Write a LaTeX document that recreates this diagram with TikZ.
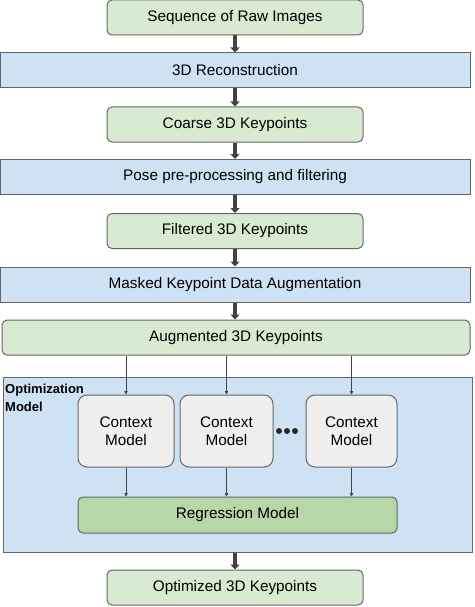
\documentclass[tikz,border=0pt]{standalone}
\usepackage{fontspec}
\setmainfont{Liberation Sans}
\usetikzlibrary{arrows.meta}
\definecolor{boxgreen}{HTML}{D9EAD3}
\definecolor{bandblue}{HTML}{CFE2F3}
\definecolor{ctxgray}{HTML}{EFEFEF}
\definecolor{reggreen}{HTML}{B6D7A8}
\definecolor{bordergray}{HTML}{666666}
\definecolor{arrowgray}{HTML}{434343}
\tikzset{
  keybox/.style={draw=bordergray, fill=boxgreen, rounded corners=5pt, line width=1pt,
    minimum width=256pt, minimum height=35pt, inner sep=0pt, font=\fontsize{15.3}{18}\selectfont},
  band/.style={draw=bordergray, fill=bandblue, line width=1pt,
    minimum width=470pt, minimum height=35pt, inner sep=0pt, font=\fontsize{15.3}{18}\selectfont},
  ctxbox/.style={draw=bordergray, fill=ctxgray, rounded corners=9pt, line width=1pt,
    minimum height=72pt, inner sep=0pt, align=center, font=\fontsize{15.3}{18.5}\selectfont},
  optbox/.style={draw=bordergray, fill=bandblue, line width=1pt, inner sep=0pt},
  regbox/.style={draw=bordergray, fill=reggreen, rounded corners=5pt, line width=1pt,
    minimum width=319pt, minimum height=36pt, inner sep=0pt, font=\fontsize{15.3}{18}\selectfont},
  bigarrow/.style={draw=arrowgray, line width=4pt, -{Triangle[width=9pt,length=5pt]}},
  thinarrow/.style={draw=arrowgray, line width=0.8pt, -{Triangle[width=3.5pt,length=3.5pt]}},
  dotmark/.style={circle, fill=black!85, inner sep=0pt, minimum size=6pt},
}
\begin{document}
\begin{tikzpicture}[x=1pt,y=-1pt]
\useasboundingbox (0,0) rectangle (474,607);
% main column
\node[keybox] (raw) at (235,17.5) {Sequence of Raw Images};
\node[band] (recon) at (235,70.5) {3D Reconstruction};
\node[keybox] (coarse) at (235,124.5) {Coarse 3D Keypoints};
\node[band] (pose) at (235,177) {Pose pre-processing and filtering};
\node[keybox] (filt) at (235,231) {Filtered 3D Keypoints};
\node[band] (mask) at (235,284.5) {Masked Keypoint Data Augmentation};
\node[keybox, minimum width=468pt] (aug) at (236,337.5) {Augmented 3D Keypoints};
% optimization model
\node[optbox, minimum width=469pt, minimum height=175pt] (opt) at (237.5,464.5) {};
\node[anchor=north west, align=left, inner sep=0pt, font=\bfseries\fontsize{13}{18}\selectfont] (optlabel) at (5,384) {Optimization\\Model};
\node[ctxbox, minimum width=96pt] (ctx1) at (126,431) {Context\\Model};
\node[ctxbox, minimum width=93pt] (ctx2) at (226.5,431) {Context\\Model};
\node[ctxbox, minimum width=91pt] (ctx3) at (351.5,431) {Context\\Model};
\node[dotmark] (d1) at (279,431) {};
\node[dotmark] (d2) at (287,431) {};
\node[dotmark] (d3) at (295,431) {};
\node[regbox] (reg) at (237.5,515) {Regression Model};
\node[keybox] (final) at (235,587.5) {Optimized 3D Keypoints};
% thick arrows
\draw[bigarrow] (raw.south) -- (recon.north);
\draw[bigarrow] (recon.south) -- (coarse.north);
\draw[bigarrow] (coarse.south) -- (pose.north);
\draw[bigarrow] (pose.south) -- (filt.north);
\draw[bigarrow] (filt.south) -- (mask.north);
\draw[bigarrow] (mask.south) -- (mask.south |- aug.north);
\draw[bigarrow] (final.north |- opt.south) -- (final.north);
% thin arrows
\draw[thinarrow] (ctx1.north |- aug.south) -- (ctx1.north);
\draw[thinarrow] (ctx2.north |- aug.south) -- (ctx2.north);
\draw[thinarrow] (ctx3.north |- aug.south) -- (ctx3.north);
\draw[thinarrow] (ctx1.south) -- (ctx1.south |- reg.north);
\draw[thinarrow] (ctx2.south) -- (ctx2.south |- reg.north);
\draw[thinarrow] (ctx3.south) -- (ctx3.south |- reg.north);
\end{tikzpicture}
\end{document}
